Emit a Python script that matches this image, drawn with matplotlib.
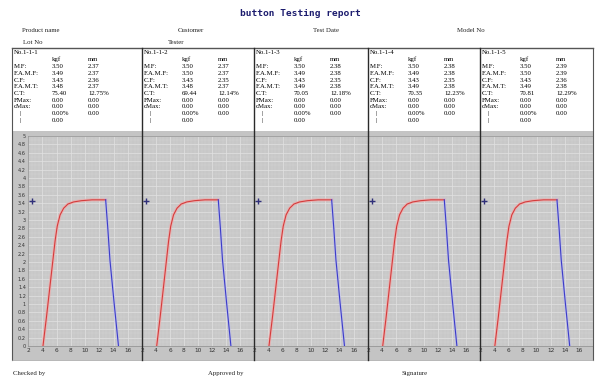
#!/usr/bin/python
# -*- coding: utf-8 -*-
# button testing report: five force / travel panels with a result table above

import numpy as np
import matplotlib as mpl
mpl.use('Agg')
from matplotlib import pyplot as plt
from matplotlib.patches import Rectangle

##########################################################################################
# data

sampleNames = ['No.1-1-1', 'No.1-1-2', 'No.1-1-3', 'No.1-1-4', 'No.1-1-5']

rowLabels = ['M.F:', 'F.A.M.F:', 'C.F:', 'F.A.M.T:', 'C.T:', 'FMax:', 'cMax:', '|', '|']

mf_kgf   = [3.50, 3.50, 3.50, 3.50, 3.50]
mf_mm    = [2.37, 2.37, 2.38, 2.38, 2.39]
famf_kgf = [3.49, 3.50, 3.49, 3.49, 3.50]
famf_mm  = [2.37, 2.37, 2.38, 2.38, 2.39]
cf_kgf   = [3.43, 3.43, 3.43, 3.43, 3.43]
cf_mm    = [2.36, 2.35, 2.35, 2.35, 2.36]
famt_kgf = [3.48, 3.48, 3.49, 3.49, 3.49]
famt_mm  = [2.37, 2.37, 2.38, 2.38, 2.38]
ct_kgf   = [75.40, 69.44, 70.05, 70.35, 70.81]
ct_pct   = [12.75, 12.14, 12.18, 12.23, 12.29]
fmax_kgf = [0.00, 0.00, 0.00, 0.00, 0.00]
fmax_mm  = [0.00, 0.00, 0.00, 0.00, 0.00]
cmax_kgf = [0.00, 0.00, 0.00, 0.00, 0.00]
cmax_mm  = [0.00, 0.00, 0.00, 0.00, 0.00]
extra_pct = [0.00, 0.00, 0.00, 0.00, 0.00]
extra_mm  = [0.00, 0.00, 0.00, 0.00, 0.00]
extra2    = [0.00, 0.00, 0.00, 0.00, 0.00]

# force curve (travel, force), same shape in all five
load_x = [4.1, 4.6, 5.1, 5.5, 5.8, 6.1, 6.5, 7.0, 7.6, 8.4, 9.5, 11.0, 12.9]
load_y = [0.0, 0.7, 1.45, 2.05, 2.5, 2.85, 3.12, 3.28, 3.38, 3.43, 3.46, 3.48, 3.48]
unload_x = [12.9, 13.2, 13.5, 14.1, 14.7]
unload_y = [3.48, 2.8, 2.05, 1.0, 0.0]
peak_marker = (2.5, 3.45)

xTicks = [2, 4, 6, 8, 10, 12, 14, 16]
yTicks = [0, 0.2, 0.4, 0.6, 0.8, 1, 1.2, 1.4, 1.6, 1.8, 2, 2.2, 2.4, 2.6, 2.8,
          3, 3.2, 3.4, 3.6, 3.8, 4, 4.2, 4.4, 4.6, 4.8, 5]

##########################################################################################
# layout (pixels of the 600 x 381 canvas)

W, H = 600.0, 381.0
panelLeft = [12, 142, 254, 368, 480]
panelRight = 593
plotLeft = [28, 142, 254, 368, 480]
plotRight = [142, 254, 368, 480, 593]
plotTop, plotBottom = 136, 346

textFont = 'Liberation Serif'
fs = 4.9

mpl.rcParams['font.family'] = textFont
mpl.rcParams['axes.linewidth'] = 0.5

f = plt.figure(figsize = (6.0, 3.81), dpi = 100)

# background canvas
axBg = f.add_axes([0, 0, 1, 1], zorder = 0)
axBg.set_xlim(0, W)
axBg.set_ylim(H, 0)
axBg.axis('off')
axBg.add_patch(Rectangle((12, 131), 581, 229, facecolor = '#c4c4c4',
                         edgecolor = 'none'))

##########################################################################################
# force panels

for i in range(5):
    rect = [plotLeft[i] / W, 1.0 - plotBottom / H,
            (plotRight[i] - plotLeft[i]) / W, (plotBottom - plotTop) / H]
    ax = f.add_axes(rect, zorder = 1)
    ax.set_facecolor('#c8c8c8')

    ax.plot(load_x, load_y, color = '#f2a8a8', lw = 2.2, alpha = 0.7, zorder = 2)
    ax.plot(load_x, load_y, color = '#d43c3c', lw = 0.8, zorder = 3)
    ax.plot(unload_x, unload_y, color = '#b8b8f0', lw = 2.0, alpha = 0.6, zorder = 2)
    ax.plot(unload_x, unload_y, color = '#3c3cc8', lw = 0.8, zorder = 3)
    ax.plot([peak_marker[0]], [peak_marker[1]], marker = '+', color = '#30307a',
            ms = 4.5, mew = 1.0, zorder = 4)

    ax.set_xlim(2, 18)
    ax.set_ylim(0, 5)
    ax.set_xticks(xTicks)
    ax.set_xticklabels([str(t) for t in xTicks], fontsize = 4.2, color = '#333333',
                       family = 'DejaVu Sans')
    ax.set_xticks(np.arange(2, 18.01, 0.5), minor = True)
    ax.set_yticks(yTicks)
    ax.set_yticks(np.arange(0, 5.01, 0.1), minor = True)
    if i == 0:
        ax.set_yticklabels(['%g' % t for t in yTicks], fontsize = 3.6,
                           color = '#333333', family = 'DejaVu Sans')
    else:
        ax.set_yticklabels([])

    ax.tick_params('both', which = 'both', length = 0, pad = 1.5)
    ax.grid(which = 'major', color = '#e2e2e2', lw = 0.5)
    ax.grid(which = 'minor', color = '#d6d6d6', lw = 0.3)
    ax.set_axisbelow(True)
    for spine in ax.spines.values():
        spine.set_color('#8c8c8c')
        spine.set_linewidth(0.5)

##########################################################################################
# overlay: table, borders and texts

axTop = f.add_axes([0, 0, 1, 1], zorder = 5)
axTop.set_xlim(0, W)
axTop.set_ylim(H, 0)
axTop.axis('off')
axTop.patch.set_visible(False)

axTop.text(300, 14, 'button Testing report', ha = 'center', va = 'center',
           fontsize = 6.8, fontweight = 'bold', color = '#1c1c6e',
           family = 'DejaVu Sans Mono')

headers = [('Product name', 22, 31), ('Customer', 178, 31), ('Test Date', 313, 31),
           ('Model No', 457, 31), ('Lot No', 23, 43), ('Tester', 168, 43)]
for s, x, y in headers:
    axTop.text(x, y, s, fontsize = fs, va = 'center', color = '#222222')

footers = [('Checked by', 13, 373), ('Approved by', 208, 373), ('Signature', 401, 373)]
for s, x, y in footers:
    axTop.text(x, y, s, fontsize = fs, va = 'center', color = '#222222')

# borders
axTop.plot([12, panelRight], [48, 48], color = '#555555', lw = 1.0)
axTop.plot([12, 12], [48, 360], color = '#555555', lw = 0.8)
axTop.plot([panelRight, panelRight], [48, 360], color = '#555555', lw = 0.8)
axTop.plot([12, panelRight], [360, 360], color = '#9a9a9a', lw = 0.5)
for x in panelLeft[1:]:
    axTop.plot([x, x], [48, 360], color = '#2a2a2a', lw = 1.0)

rowY0, rowStep = 66.5, 6.75
for i in range(5):
    x0 = panelLeft[i]
    axTop.text(x0 + 1.5, 52, sampleNames[i], fontsize = fs, va = 'center')
    axTop.text(x0 + 40, 59.5, 'kgf', fontsize = fs, va = 'center')
    axTop.text(x0 + 76, 59.5, 'mm', fontsize = fs, va = 'center')

    colA = ['%.2f' % mf_kgf[i], '%.2f' % famf_kgf[i], '%.2f' % cf_kgf[i],
            '%.2f' % famt_kgf[i], '%.2f' % ct_kgf[i], '%.2f' % fmax_kgf[i],
            '%.2f' % cmax_kgf[i], '%.2f%%' % extra_pct[i], '%.2f' % extra2[i]]
    colB = ['%.2f' % mf_mm[i], '%.2f' % famf_mm[i], '%.2f' % cf_mm[i],
            '%.2f' % famt_mm[i], '%.2f%%' % ct_pct[i], '%.2f' % fmax_mm[i],
            '%.2f' % cmax_mm[i], '%.2f' % extra_mm[i], '']

    for r, lab in enumerate(rowLabels):
        y = rowY0 + r * rowStep
        lx = x0 + 1.5 if lab != '|' else x0 + 7
        axTop.text(lx, y, lab, fontsize = fs, va = 'center')
        axTop.text(x0 + 40, y, colA[r], fontsize = fs, va = 'center')
        axTop.text(x0 + 76, y, colB[r], fontsize = fs, va = 'center')

f.savefig('out.png', dpi = 100)
plt.close()
